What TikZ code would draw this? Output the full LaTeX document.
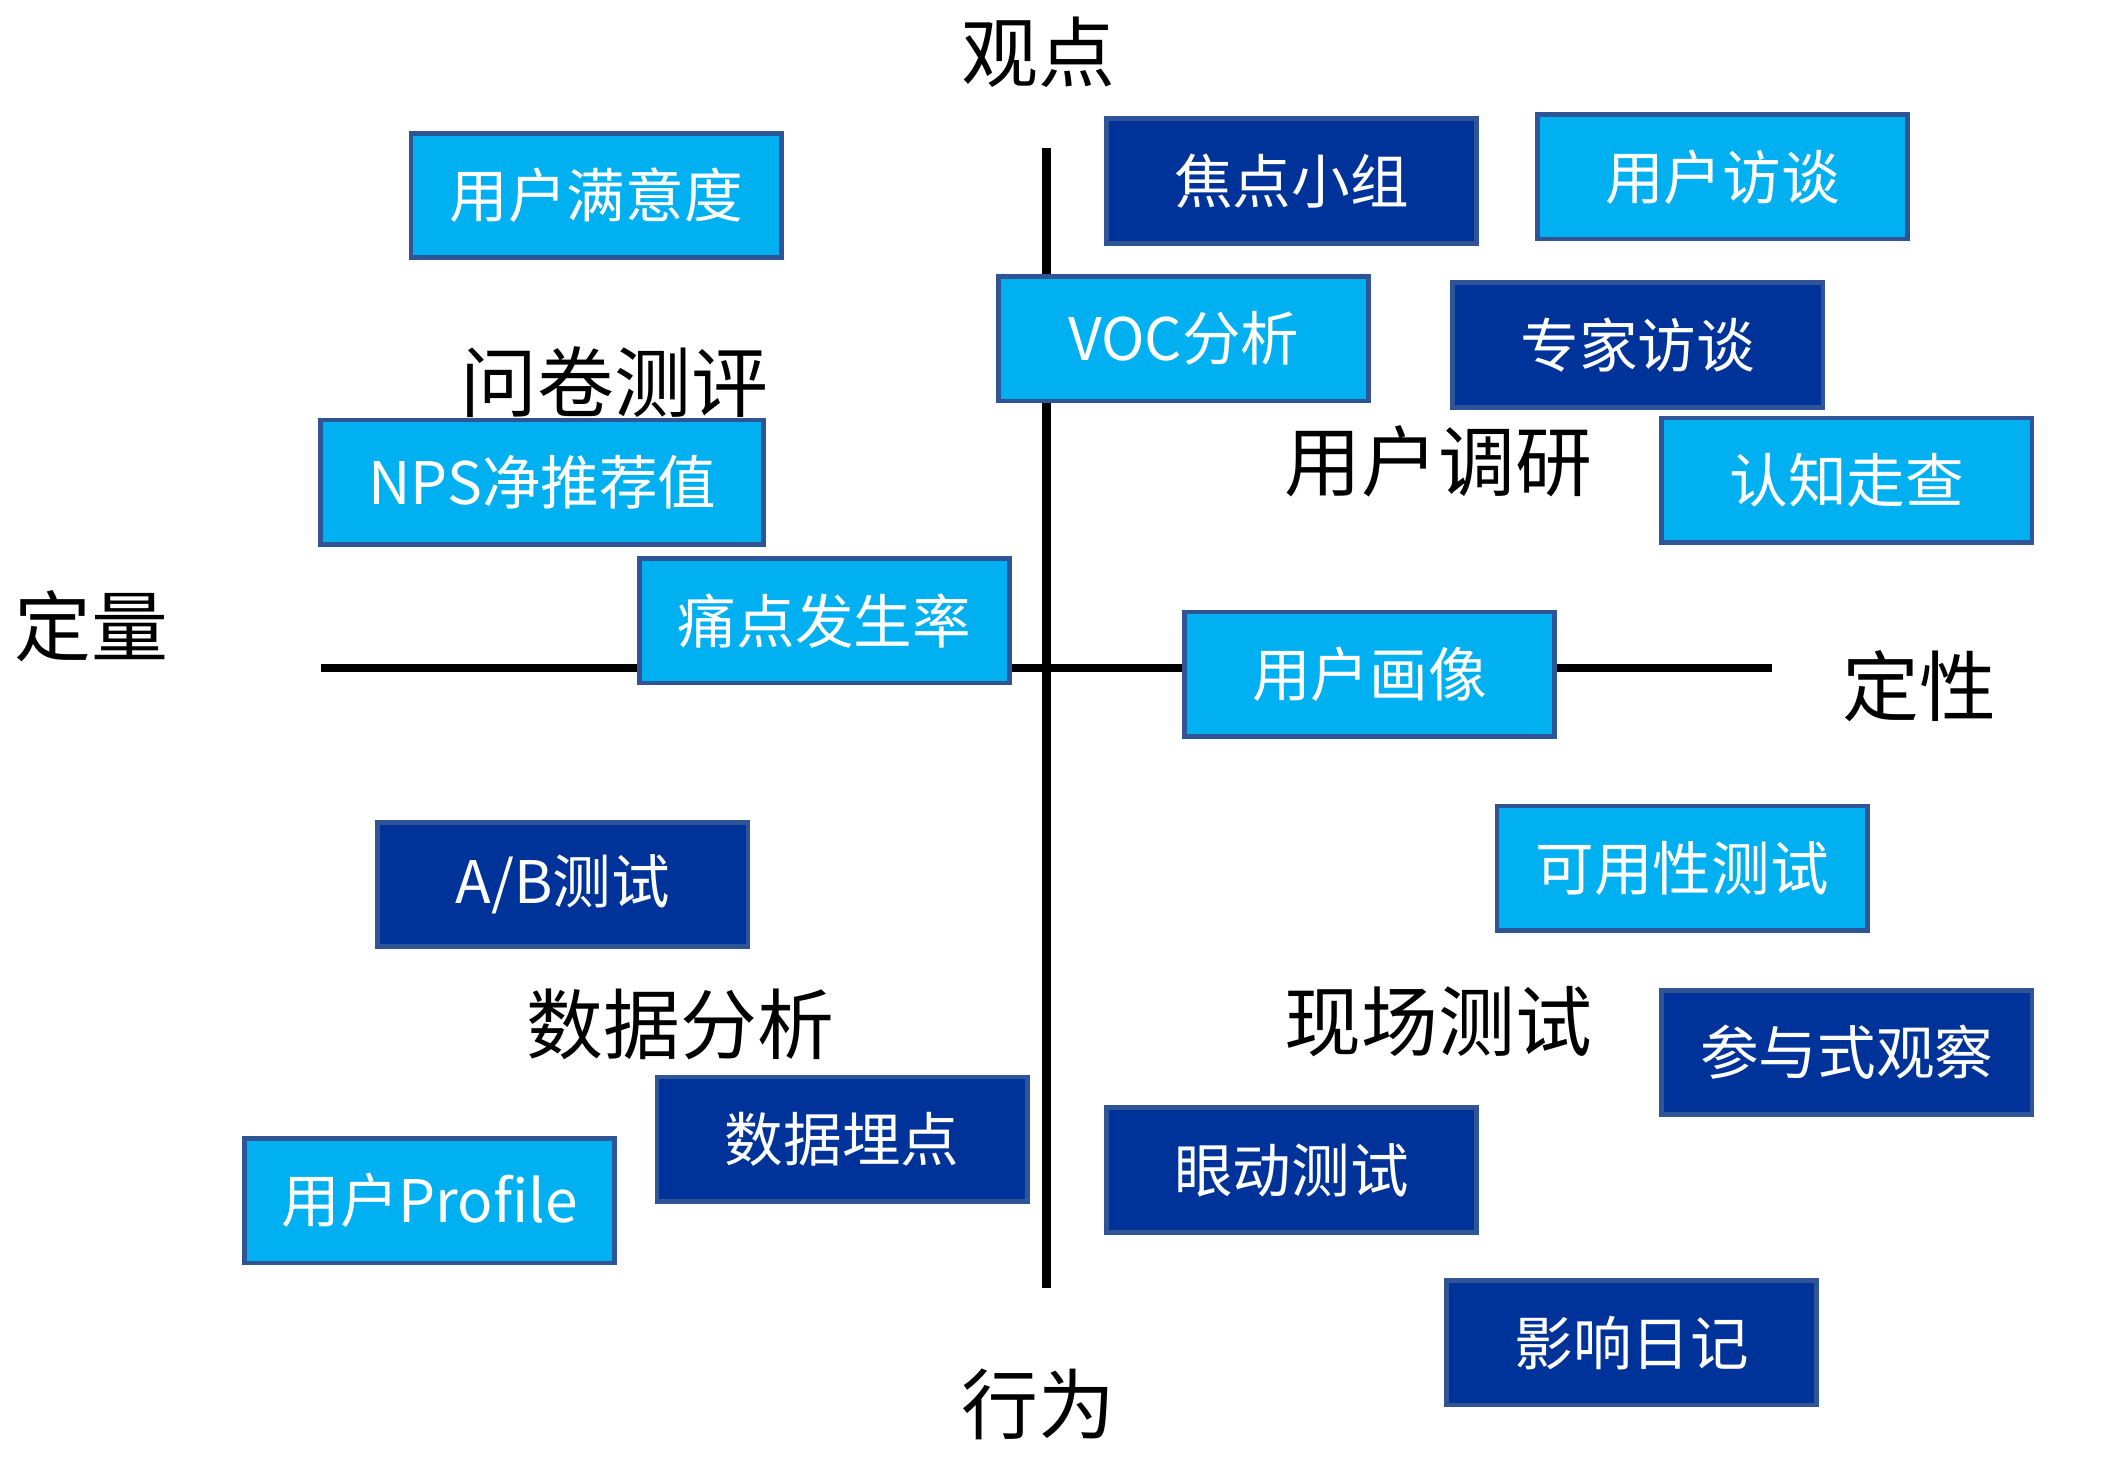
\documentclass[tikz,border=0pt]{standalone}
\usepackage{fontspec}
\setmainfont{Noto Sans CJK SC}
\begin{document}
\begin{tikzpicture}[x=0.01cm,y=-0.01cm,
  box/.style={draw=boxline,line width=1pt,minimum width=2.71cm,minimum height=0.91cm,inner sep=0pt,text=white,font=\fontsize{12.2}{14}\selectfont},
  lt/.style={box,fill=lightb},
  dk/.style={box,fill=darkb},
  big/.style={font=\fontsize{16}{18}\selectfont,inner sep=0pt},
  axis/.style={line width=1.8pt,black}]
\definecolor{lightb}{HTML}{00B0F0}
\definecolor{darkb}{HTML}{003399}
\definecolor{boxline}{HTML}{2F5597}
\useasboundingbox (0,0) rectangle (1552,1078);
\coordinate (vt) at (766,108); \coordinate (vb) at (766,943);
\coordinate (hl) at (235,489); \coordinate (hr) at (1297,489);
\draw[axis] (vt) -- (vb);
\draw[axis] (hl) -- (hr);
\node[lt] (a) at (436.5,143) {用户满意度};
\node[dk] (b) at (945.5,132.5) {焦点小组};
\node[lt] (c) at (1261,129.5) {用户访谈};
\node[lt] (d) at (866.5,248) {VOC分析};
\node[dk] (e) at (1199,252.5) {专家访谈};
\node[lt,minimum width=3.24cm] (f) at (397,353) {NPS净推荐值};
\node[lt] (g) at (1352,351.5) {认知走查};
\node[lt] (h) at (603.5,454.5) {痛点发生率};
\node[lt] (i) at (1002.5,493.5) {用户画像};
\node[lt] (j) at (1231.5,635.5) {可用性测试};
\node[dk] (k) at (412,647.5) {A/B测试};
\node[dk] (l) at (1352,770.5) {参与式观察};
\node[dk] (m) at (616.5,834) {数据埋点};
\node[dk] (n) at (945.5,856.5) {眼动测试};
\node[lt] (o) at (314.5,879) {用户Profile};
\node[dk] (p) at (1194.5,983) {影响日记};
\node[big] (t1) at (760,38) {观点};
\node[big] (t2) at (67,458) {定量};
\node[big] (t3) at (1405,502) {定性};
\node[big] (t4) at (760,1028) {行为};
\node[big] (t5) at (450,280) {问卷测评};
\node[big] (t6) at (1053,338) {用户调研};
\node[big] (t7) at (498,750) {数据分析};
\node[big] (t8) at (1053,748) {现场测试};
\end{tikzpicture}
\end{document}
